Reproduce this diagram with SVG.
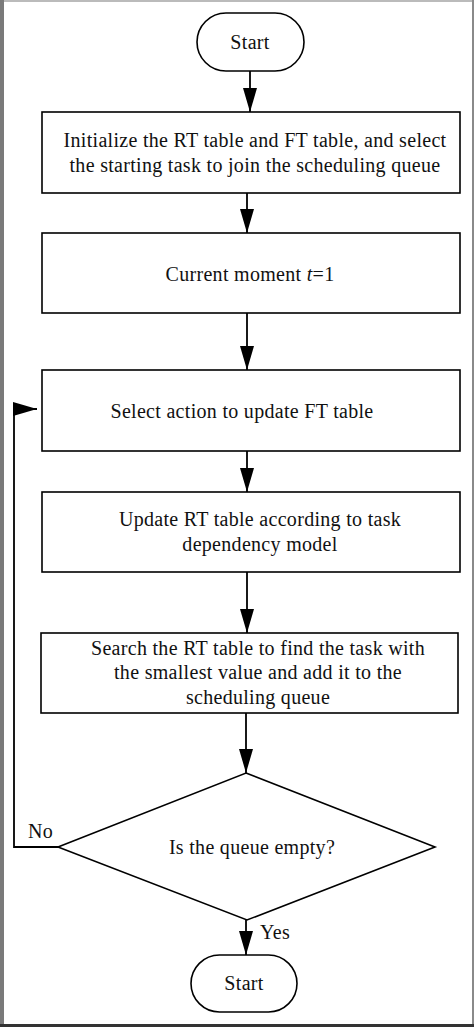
<svg xmlns="http://www.w3.org/2000/svg" width="474" height="1027" viewBox="0 0 474 1027">
<defs>
<marker id="ah" markerWidth="24" markerHeight="14" refX="24" refY="7" orient="auto" markerUnits="userSpaceOnUse" viewBox="0 0 24 14">
<path d="M0,0 L24,7 L0,14 Z" fill="#000"/>
</marker>
</defs>
<style>
.n{fill:#fff;stroke:#000;stroke-width:1.6}
.t{font-family:"Liberation Serif","Times New Roman",serif;font-size:20px;letter-spacing:0.3px;fill:#111;text-anchor:middle}
.c{fill:none;stroke:#000;stroke-width:1.8}
</style>
<rect x="0" y="0" width="474" height="1027" fill="#fff"/>
<rect x="0" y="0" width="474" height="2" fill="#bbb"/>
<rect x="0" y="0" width="4" height="1027" fill="#7a7a7a"/>
<rect x="472" y="0" width="2" height="1027" fill="#8a8a8a"/>
<rect x="0" y="1024" width="474" height="3" fill="#333"/>
<g id="connectors">
<path class="c" d="M250,71 V112" marker-end="url(#ah)"/>
<path class="c" d="M247,193 V233" marker-end="url(#ah)"/>
<path class="c" d="M247,313 V370" marker-end="url(#ah)"/>
<path class="c" d="M247,451 V492" marker-end="url(#ah)"/>
<path class="c" d="M247,572 V633" marker-end="url(#ah)"/>
<path class="c" d="M246,713 V773" marker-end="url(#ah)"/>
<path class="c" d="M246,920 V955" marker-end="url(#ah)"/>
<path class="c" d="M58,847 H14 V409 H37" marker-end="url(#ah)"/>
<text class="t" x="28" y="838" style="text-anchor:start">No</text>
<text class="t" x="260" y="939" style="text-anchor:start">Yes</text>
</g>
<g id="start">
<rect class="n" x="197" y="13" width="107" height="58" rx="29" ry="29"/>
<text class="t" x="250" y="49">Start</text>
</g>
<g id="init">
<rect class="n" x="42" y="112" width="418" height="81"/>
<text class="t" x="255" y="147">Initialize the RT table and FT table, and select</text>
<text class="t" x="255" y="172">the starting task to join the scheduling queue</text>
</g>
<g id="moment">
<rect class="n" x="42" y="233" width="418" height="80"/>
<text class="t" x="250" y="281">Current moment <tspan font-style="italic">t</tspan>=1</text>
</g>
<g id="select">
<rect class="n" x="42" y="370" width="418" height="81"/>
<text class="t" x="242" y="418">Select action to update FT table</text>
</g>
<g id="update">
<rect class="n" x="42" y="492" width="418" height="80"/>
<text class="t" x="260" y="526">Update RT table according to task</text>
<text class="t" x="260" y="551">dependency model</text>
</g>
<g id="search">
<rect class="n" x="41" y="633" width="417" height="80"/>
<text class="t" x="258" y="655">Search the RT table to find the task with</text>
<text class="t" x="258" y="679">the smallest value and add it to the</text>
<text class="t" x="258" y="704">scheduling queue</text>
</g>
<g id="decision">
<polygon class="n" points="246,773 435,847 247,920 58,847"/>
<text class="t" x="252" y="854">Is the queue empty?</text>
</g>
<g id="end">
<rect class="n" x="191" y="955" width="106" height="57" rx="28.5" ry="28.5"/>
<text class="t" x="244" y="990">Start</text>
</g>
</svg>
